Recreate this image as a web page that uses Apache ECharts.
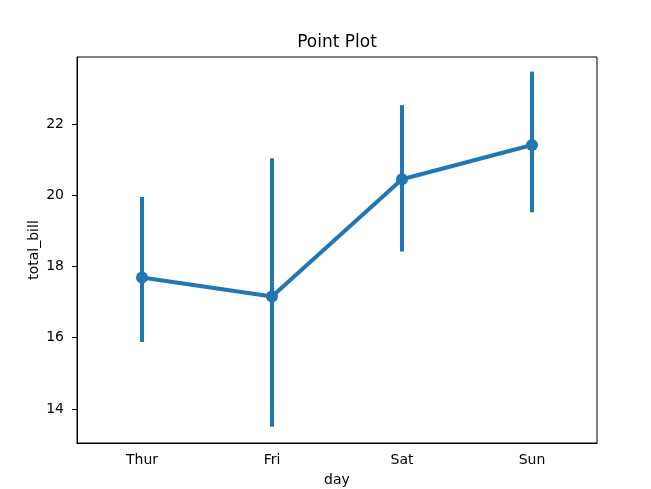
<!DOCTYPE html>
<html>
<head>
<meta charset="utf-8">
<script src="https://cdn.jsdelivr.net/npm/echarts@6/dist/echarts.min.js"></script>
<style>html,body{margin:0;padding:0;background:#fff}#c{width:651px;height:489px}</style>
</head>
<body>
<div id="c"></div>
<script>
const days = ['Thur', 'Fri', 'Sat', 'Sun'];
const meanBill = [17.69, 17.16, 20.45, 21.41];
const ciLow = [15.88, 13.50, 18.42, 19.52];
const ciHigh = [19.95, 21.04, 22.53, 23.47];
const yTicks = [14, 16, 18, 20, 22];

const color = '#1f77b4';
const font = 'DejaVu Sans';
const chart = echarts.init(document.getElementById('c'), null, {renderer: 'canvas'});
const errData = days.map((d, i) => [i, ciLow[i], ciHigh[i]]);

chart.setOption({
  animation: false,
  graphic: [{
    type: 'text', x: 337, y: 42.5,
    style: {text: 'Point Plot', font: '17px "DejaVu Sans"', fill: '#000', textAlign: 'center', textVerticalAlign: 'middle'}
  }],
  grid: {left: 77, right: 54, top: 57, bottom: 46, show: true, borderColor: '#000', borderWidth: 1, outerBoundsMode: 'none', containLabel: false},
  xAxis: {
    type: 'category', data: days, boundaryGap: true,
    name: 'day', nameLocation: 'middle', nameGap: 30, nameMoveOverlap: false,
    nameTextStyle: {fontFamily: font, fontSize: 14, color: '#000'},
    axisLine: {lineStyle: {color: '#000', width: 1}},
    axisTick: {alignWithLabel: true, length: 5, lineStyle: {color: '#000'}},
    axisLabel: {fontFamily: font, fontSize: 14, color: '#000', margin: 10},
    splitLine: {show: false}
  },
  yAxis: {
    type: 'value', min: 13.045, max: 23.88,
    name: 'total_bill', nameLocation: 'middle', nameGap: 36, nameMoveOverlap: false,
    nameTextStyle: {fontFamily: font, fontSize: 14, color: '#000'},
    axisLine: {show: true, lineStyle: {color: '#000', width: 1}},
    axisTick: {show: true, length: 5, lineStyle: {color: '#000'}, customValues: yTicks},
    axisLabel: {fontFamily: font, fontSize: 14, color: '#000', margin: 13, customValues: yTicks},
    splitLine: {show: false}
  },
  series: [{
    type: 'custom',
    data: errData,
    encode: {x: 0, y: [1, 2]},
    renderItem: function (params, api) {
      const lo = api.coord([api.value(0), api.value(1)]);
      const hi = api.coord([api.value(0), api.value(2)]);
      return {type: 'line', shape: {x1: lo[0], y1: lo[1], x2: hi[0], y2: hi[1]}, style: {stroke: color, lineWidth: 4}};
    },
    z: 2
  }, {
    type: 'line', data: meanBill,
    symbol: 'circle', symbolSize: 12,
    itemStyle: {color: color},
    lineStyle: {color: color, width: 4},
    z: 3
  }]
});
</script>
</body>
</html>
